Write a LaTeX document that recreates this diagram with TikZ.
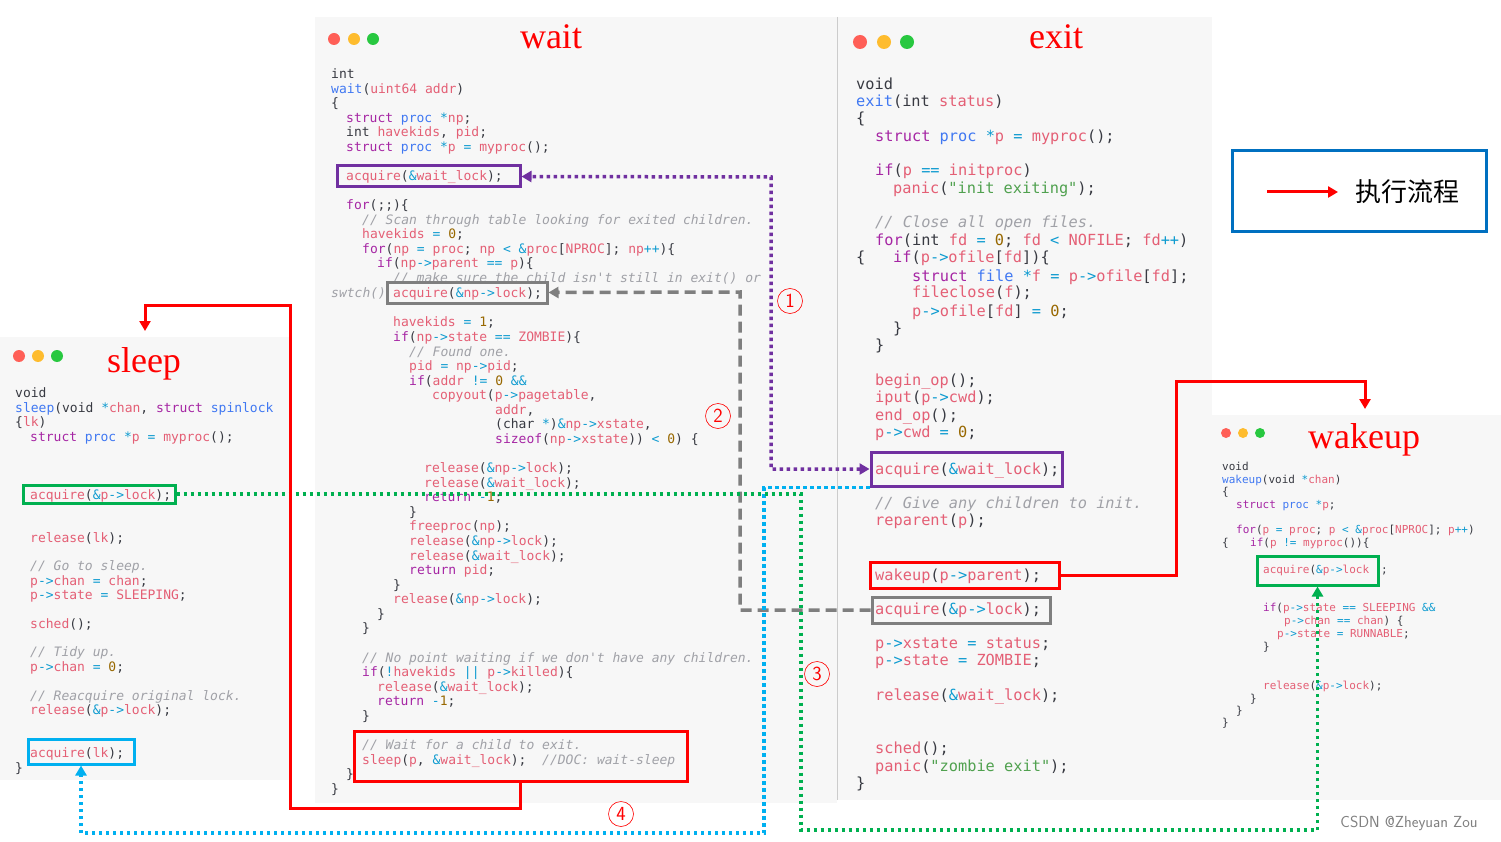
\documentclass[tikz,border=0pt]{standalone}
\usepackage{fontspec}
\setmainfont{Liberation Serif}
\setmonofont{DejaVu Sans Mono}
\newfontfamily\cjk{Noto Sans CJK SC}
\usetikzlibrary{arrows.meta}
\definecolor{ckw}{HTML}{A626A4}
\definecolor{cfn}{HTML}{4078F2}
\definecolor{cid}{HTML}{E45F75}
\definecolor{cop}{HTML}{0E9BD0}
\definecolor{cnum}{HTML}{986801}
\definecolor{ccm}{HTML}{A0A1A7}
\definecolor{cstr}{HTML}{50A14F}
\definecolor{cdef}{HTML}{383A42}
\definecolor{bgp}{HTML}{F7F7F7}
\definecolor{mpur}{HTML}{7030A0}
\definecolor{mgray}{HTML}{7F7F7F}
\definecolor{mblue}{HTML}{00B0F0}
\definecolor{mgreen}{HTML}{00B050}
\definecolor{lblue}{HTML}{0070C0}
\newcommand\K[1]{\textcolor{ckw}{#1}}
\newcommand\F[1]{\textcolor{cfn}{#1}}
\newcommand\I[1]{\textcolor{cid}{#1}}
\newcommand\Op[1]{\textcolor{cop}{#1}}
\newcommand\N[1]{\textcolor{cnum}{#1}}
\newcommand\Cm[1]{\textcolor{ccm}{\itshape #1}}
\newcommand\St[1]{\textcolor{cstr}{#1}}
\tikzset{
 code/.style={anchor=west,inner sep=0,text height=.75em,text depth=.25em,text=cdef,yshift=-2.5pt},
 cw/.style={code,font=\ttfamily\fontsize{13}{14}\selectfont},
 ce/.style={code,font=\ttfamily\fontsize{15.3}{17}\selectfont},
 ck/.style={code,font=\ttfamily\fontsize{11}{12}\selectfont},
 title/.style={text=red,font=\fontsize{36}{40}\selectfont,inner sep=0},
 hbox/.style={draw=#1,line width=3pt,inner sep=0},
 panel/.style={fill=bgp,draw=none},
 tip/.style={-{Triangle[length=10pt,width=11pt]}},
 pur/.style={mpur,line width=3.5pt,dash pattern=on 3.5pt off 3.5pt},
 gry/.style={mgray,line width=3.5pt,dash pattern=on 11pt off 6pt},
 blu/.style={mblue,line width=3.5pt,dash pattern=on 3.5pt off 3.5pt},
 grn/.style={mgreen,line width=3.5pt,dash pattern=on 3.5pt off 3.5pt},
 rd/.style={red,line width=3pt},
 num/.style={circle,draw=red,line width=.6pt,text=red,inner sep=0,minimum size=25pt,font=\sffamily\fontsize{20}{20}\selectfont},
}
\newcommand\W[3]{\node[cw] at (#1,#2) {#3};}
\newcommand\E[3]{\node[ce] at (#1,#2) {#3};}
\newcommand\U[3]{\node[ck] at (#1,#2) {#3};}
\begin{document}
\begin{tikzpicture}[x=1pt,y=-1pt]
\useasboundingbox (0,0) rectangle (1501,842);
\fill[white] (0,0) rectangle (1501,842);
% panels
\fill[panel] (315,17) rectangle (837,803);
\fill[panel] (837,17) rectangle (1212,800);
\draw[gray!40,line width=.6pt] (837,17) -- (837,800);
\fill[panel] (0,337) rectangle (290,780);
\fill[panel] (1212,415) rectangle (1501,800);
% titles and dots
\node[title] (tw) at (551,37) {wait};
\node[title] (te) at (1056,37) {exit};
\node[title] (ts) at (144,364) {sleep};
\node[title] (tk) at (1364,440) {wakeup};
\foreach \x/\c in {334/FF5F57,354/FEBC2E,373/28C840}{\definecolor{tc}{HTML}{\c}\fill[tc] (\x,39) circle (6);}
\foreach \x/\c in {860/FF5F57,884/FEBC2E,907/28C840}{\definecolor{tc}{HTML}{\c}\fill[tc] (\x,42) circle (7);}
\foreach \x/\c in {19/FF5F57,38/FEBC2E,57/28C840}{\definecolor{tc}{HTML}{\c}\fill[tc] (\x,356) circle (6);}
\foreach \x/\c in {1226/FF5F57,1243/FEBC2E,1260/28C840}{\definecolor{tc}{HTML}{\c}\fill[tc] (\x,433) circle (5);}
% wait code
\W{331}{74}{int}
\W{331}{89}{\F{wait}(\I{uint64 addr})}
\W{331}{103}{\{}
\W{346}{118}{\K{struct} \F{proc} \Op{*}\I{np};}
\W{346}{132}{int \I{havekids}, \I{pid};}
\W{346}{147}{\K{struct} \F{proc} \Op{*}\I{p} \Op{=} \I{myproc}();}
\W{346}{176}{\I{acquire}(\Op{\&}\I{wait\_lock});}
\W{346}{205}{\K{for}(;;)\{}
\W{362}{220}{\Cm{// Scan through table looking for exited children.}}
\W{362}{234}{\I{havekids} \Op{=} \N{0};}
\W{362}{249}{\K{for}(\I{np} \Op{=} \I{proc}; \I{np} \Op{<} \Op{\&}\I{proc}[\I{NPROC}]; \I{np}\Op{++})\{}
\W{377}{263}{\K{if}(\I{np}\Op{->}\I{parent} \Op{==} \I{p})\{}
\W{393}{278}{\Cm{// make sure the child isn\textquotesingle t still in exit() or}}
\W{331}{292}{\Cm{swtch()}}
\W{393}{292}{\I{acquire}(\Op{\&}\I{np}\Op{->}\I{lock});}
\W{393}{321}{\I{havekids} \Op{=} \N{1};}
\W{393}{336}{\K{if}(\I{np}\Op{->}\I{state} \Op{==} \I{ZOMBIE})\{}
\W{409}{351}{\Cm{// Found one.}}
\W{409}{365}{\I{pid} \Op{=} \I{np}\Op{->}\I{pid};}
\W{409}{380}{\K{if}(\I{addr} \Op{!=} \N{0} \Op{\&\&}}
\W{432}{394}{\I{copyout}(\I{p}\Op{->}\I{pagetable},}
\W{495}{409}{\I{addr},}
\W{495}{423}{(char \Op{*})\Op{\&}\I{np}\Op{->}\I{xstate},}
\W{495}{438}{\K{sizeof}(\I{np}\Op{->}\I{xstate})) \Op{<} \N{0}) \{}
\W{424}{467}{\I{release}(\Op{\&}\I{np}\Op{->}\I{lock});}
\W{424}{482}{\I{release}(\Op{\&}\I{wait\_lock});}
\W{424}{496}{\K{return} \Op{-}\N{1};}
\W{409}{511}{\}}
\W{409}{525}{\I{freeproc}(\I{np});}
\W{409}{540}{\I{release}(\Op{\&}\I{np}\Op{->}\I{lock});}
\W{409}{555}{\I{release}(\Op{\&}\I{wait\_lock});}
\W{409}{569}{\K{return} \I{pid};}
\W{393}{584}{\}}
\W{393}{598}{\I{release}(\Op{\&}\I{np}\Op{->}\I{lock});}
\W{377}{613}{\}}
\W{362}{627}{\}}
\W{362}{657}{\Cm{// No point waiting if we don\textquotesingle t have any children.}}
\W{362}{671}{\K{if}(\Op{!}\I{havekids} \Op{||} \I{p}\Op{->}\I{killed})\{}
\W{377}{686}{\I{release}(\Op{\&}\I{wait\_lock});}
\W{377}{700}{\K{return} \Op{-}\N{1};}
\W{362}{715}{\}}
\W{362}{744}{\Cm{// Wait for a child to exit.}}
\W{362}{759}{\I{sleep}(\I{p}, \Op{\&}\I{wait\_lock});\ \ \Cm{//DOC: wait-sleep}}
\W{346}{773}{\}}
\W{331}{788}{\}}
% exit code
\E{856}{85}{void}
\E{856}{102}{\F{exit}(int \I{status})}
\E{856}{119}{\{}
\E{875}{137}{\K{struct} \F{proc} \Op{*}\I{p} \Op{=} \I{myproc}();}
\E{875}{171}{\K{if}(\I{p} \Op{==} \I{initproc})}
\E{893}{189}{\I{panic}(\St{"init exiting"});}
\E{875}{223}{\Cm{// Close all open files.}}
\E{875}{241}{\K{for}(int \I{fd} \Op{=} \N{0}; \I{fd} \Op{<} \I{NOFILE}; \I{fd}\Op{++})}
\E{856}{258}{\{}
\E{893}{258}{\K{if}(\I{p}\Op{->}\I{ofile}[\I{fd}])\{}
\E{912}{276}{\K{struct} \F{file} \Op{*}\I{f} \Op{=} \I{p}\Op{->}\I{ofile}[\I{fd}];}
\E{912}{293}{\I{fileclose}(\I{f});}
\E{912}{311}{\I{p}\Op{->}\I{ofile}[\I{fd}] \Op{=} \N{0};}
\E{893}{328}{\}}
\E{875}{345}{\}}
\E{875}{380}{\I{begin\_op}();}
\E{875}{397}{\I{iput}(\I{p}\Op{->}\I{cwd});}
\E{875}{415}{\I{end\_op}();}
\E{875}{432}{\I{p}\Op{->}\I{cwd} \Op{=} \N{0};}
\E{875}{469}{\I{acquire}(\Op{\&}\I{wait\_lock});}
\E{875}{503}{\Cm{// Give any children to init.}}
\E{875}{520}{\I{reparent}(\I{p});}
\E{875}{575}{\I{wakeup}(\I{p}\Op{->}\I{parent});}
\E{875}{609}{\I{acquire}(\Op{\&}\I{p}\Op{->}\I{lock});}
\E{875}{643}{\I{p}\Op{->}\I{xstate} \Op{=} \I{status};}
\E{875}{660}{\I{p}\Op{->}\I{state} \Op{=} \I{ZOMBIE};}
\E{875}{695}{\I{release}(\Op{\&}\I{wait\_lock});}
\E{875}{748}{\I{sched}();}
\E{875}{766}{\I{panic}(\St{"zombie exit"});}
\E{856}{783}{\}}
% sleep code
\W{15}{392}{void}
\W{15}{407}{\F{sleep}(void \Op{*}\I{chan}, \K{struct} \F{spinlock}}
\W{15}{421}{\{\I{lk})}
\W{30}{436}{\K{struct} \F{proc} \Op{*}\I{p} \Op{=} \I{myproc}();}
\W{30}{494}{\I{acquire}(\Op{\&}\I{p}\Op{->}\I{lock});}
\W{30}{537}{\I{release}(\I{lk});}
\W{30}{565}{\Cm{// Go to sleep.}}
\W{30}{580}{\I{p}\Op{->}\I{chan} \Op{=} \I{chan};}
\W{30}{594}{\I{p}\Op{->}\I{state} \Op{=} \I{SLEEPING};}
\W{30}{623}{\I{sched}();}
\W{30}{651}{\Cm{// Tidy up.}}
\W{30}{666}{\I{p}\Op{->}\I{chan} \Op{=} \N{0};}
\W{30}{695}{\Cm{// Reacquire original lock.}}
\W{30}{709}{\I{release}(\Op{\&}\I{p}\Op{->}\I{lock});}
\W{30}{752}{\I{acquire}(\I{lk});}
\W{15}{767}{\}}
% wakeup code
\U{1222}{465}{void}
\U{1222}{478}{\F{wakeup}(void \Op{*}\I{chan})}
\U{1222}{490}{\{}
\U{1236}{503}{\K{struct} \F{proc} \Op{*}\I{p};}
\U{1236}{528}{\K{for}(\I{p} \Op{=} \I{proc}; \I{p} \Op{<} \Op{\&}\I{proc}[\I{NPROC}]; \I{p}\Op{++})}
\U{1222}{541}{\{}
\U{1250}{541}{\K{if}(\I{p} \Op{!=} \I{myproc}())\{}
\U{1263}{568}{\I{acquire}(\Op{\&}\I{p}\Op{->}\I{lock}}
\U{1381}{568}{;}
\U{1263}{606}{\K{if}(\I{p}\Op{->}\I{state} \Op{==} \I{SLEEPING} \Op{\&\&}}
\U{1284}{619}{\I{p}\Op{->}\I{chan} \Op{==} \I{chan}) \{}
\U{1277}{632}{\I{p}\Op{->}\I{state} \Op{=} \I{RUNNABLE};}
\U{1263}{645}{\}}
\U{1263}{684}{\I{release}(\Op{\&}\I{p}\Op{->}\I{lock});}
\U{1250}{697}{\}}
\U{1236}{709}{\}}
\U{1222}{721}{\}}
% highlight boxes
\node[hbox=mpur,minimum width=183,minimum height=21] (wwl) at (428.5,176.5) {};
\node[hbox=mgray,minimum width=160,minimum height=21] (wnl) at (467,292.5) {};
\node[hbox=red,minimum width=333,minimum height=50] (wsl) at (520.5,756) {};
\node[hbox=mpur,minimum width=191,minimum height=34] (ewl) at (966.5,469) {};
\node[hbox=red,minimum width=189,minimum height=26] (ewu) at (964.5,575) {};
\node[hbox=mgray,minimum width=178,minimum height=26] (epl) at (961,610) {};
\node[hbox=mgreen,minimum width=152,minimum height=18] (spl) at (99,494) {};
\node[hbox=mblue,minimum width=106,minimum height=25] (sak) at (81,751.5) {};
\node[hbox=mgreen,minimum width=121,minimum height=29] (kpl) at (1317.5,570.5) {};
% connectors
\coordinate (p1) at (771,177);
\draw[pur,{Triangle[length=10pt,width=11pt]}-{Triangle[length=10pt,width=11pt]}] (ewl.west) -| (p1) -- (wwl.east);
\coordinate (g1) at (740,292);
\draw[gry,tip] (epl.west) -| (g1) -- (wnl.east);
\coordinate (b1) at (764,833);
\draw[blu,tip] (ewl.south west) -| (b1) -| (sak.south);
\coordinate (n1) at (801,830);
\draw[grn,tip] (spl.east) -| (n1) -| (kpl.south);
\coordinate (r1) at (290,808);
\coordinate (r2) at (290,305);
\coordinate (r3) at (145,331);
\draw[rd,tip] (wsl.south) |- (r1) -- (r2) -| (r3);
\coordinate (r4) at (1176,381);
\coordinate (r5) at (1365,409);
\draw[rd,tip] (ewu.east) -| (r4) -| (r5);
% step numbers
\node[num] (n1l) at (790,301) {1};
\node[num] (n2l) at (718,416) {2};
\node[num] (n3l) at (817,674) {3};
\node[num] (n4l) at (621,814) {4};
% legend
\node[draw=lblue,line width=3pt,minimum width=254,minimum height=81] (leg) at (1359,191.5) {};
\coordinate (la) at (1267,192);
\node[font=\cjk\fontsize{26}{28}\selectfont,inner sep=0] (lt) at (1407,192) {执行流程};
\draw[rd,tip] (la) -- (1338,192);
\node[text=gray,font=\sffamily\fontsize{16}{17}\selectfont,inner sep=0] (wm) at (1409,823) {CSDN @Zheyuan Zou};
\end{tikzpicture}
\end{document}
